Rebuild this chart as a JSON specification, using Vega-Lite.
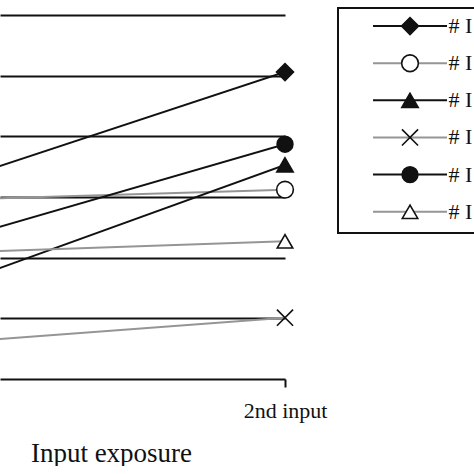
{
  "$schema": "https://vega.github.io/schema/vega-lite/v6.json",
  "padding": {"left": 0, "top": 7, "right": 0, "bottom": 0},
  "background": "white",
  "config": {"view": {"stroke": null}, "font": "Liberation Serif"},
  "spacing": 53,
  "bounds": "flush",
  "resolve": {"scale": {"x": "independent", "y": "independent"}},
  "datasets": {
    "lines": [
      {"series": "s1", "input": 1, "value": 1.96},
      {"series": "s1", "input": 2, "value": 5.06},
      {"series": "s2", "input": 1, "value": 2.84},
      {"series": "s2", "input": 2, "value": 3.12},
      {"series": "s3", "input": 1, "value": 0.13},
      {"series": "s3", "input": 2, "value": 3.53},
      {"series": "s4", "input": 1, "value": 0.31},
      {"series": "s4", "input": 2, "value": 1.01},
      {"series": "s5", "input": 1, "value": 1.15},
      {"series": "s5", "input": 2, "value": 3.87},
      {"series": "s6", "input": 1, "value": 1.95},
      {"series": "s6", "input": 2, "value": 2.27}
    ],
    "keys": [
      {"series": "s1", "label": "# I"},
      {"series": "s2", "label": "# I"},
      {"series": "s3", "label": "# I"},
      {"series": "s4", "label": "# I"},
      {"series": "s5", "label": "# I"},
      {"series": "s6", "label": "# I"}
    ]
  },
  "hconcat": [
    {
      "width": 285,
      "height": 371,
      "data": {"name": "lines"},
      "encoding": {
        "x": {
          "field": "input",
          "type": "quantitative",
          "scale": {"domain": [1.5, 2], "nice": false, "zero": false},
          "axis": {
            "values": [2],
            "labelExpr": "datum.value == 2 ? '2nd input' : '1st input'",
            "title": "Input exposure",
            "grid": false,
            "domainColor": "#111",
            "domainWidth": 2,
            "tickColor": "#111",
            "tickWidth": 2,
            "tickSize": 8,
            "labelFont": "Liberation Serif",
            "labelFontSize": 22,
            "labelColor": "#111",
            "labelPadding": 13,
            "labelFlush": false,
            "titleFont": "Liberation Serif",
            "titleFontSize": 27,
            "titleFontWeight": "normal",
            "titleColor": "#111",
            "titleAlign": "center",
            "titleBaseline": "alphabetic",
            "titleX": 111,
            "titleY": 82
          }
        },
        "y": {
          "field": "value",
          "type": "quantitative",
          "scale": {"domain": [0, 6.115], "nice": false},
          "axis": {
            "values": [1, 2, 3, 4, 5, 6],
            "grid": true,
            "gridColor": "#111",
            "gridWidth": 2,
            "domain": false,
            "ticks": false,
            "labels": false,
            "title": null
          }
        }
      },
      "layer": [
        {
          "mark": {"type": "line", "clip": true, "strokeWidth": 2},
          "encoding": {
            "color": {
              "field": "series",
              "type": "nominal",
              "scale": {"domain": ["s1", "s2", "s3", "s4", "s5", "s6"], "range": ["#111", "#959595", "#111", "#959595", "#111", "#959595"]},
              "legend": null
            }
          }
        },
        {
          "transform": [{"filter": "datum.input == 2"}],
          "mark": {"type": "point", "stroke": "#111", "strokeWidth": 1.6, "opacity": 1},
          "encoding": {
            "shape": {
              "field": "series",
              "type": "nominal",
              "scale": {"domain": ["s1", "s2", "s3", "s4", "s5", "s6"], "range": ["diamond", "circle", "triangle-up", "M-1,-1L1,1M-1,1L1,-1", "circle", "triangle-up"]},
              "legend": null
            },
            "fill": {
              "field": "series",
              "type": "nominal",
              "scale": {"domain": ["s1", "s2", "s3", "s4", "s5", "s6"], "range": ["#111", "white", "#111", "white", "#111", "white"]},
              "legend": null
            },
            "size": {
              "field": "series",
              "type": "nominal",
              "scale": {"domain": ["s1", "s2", "s3", "s4", "s5", "s6"], "range": [289, 240, 256, 225, 324, 300]},
              "legend": null
            }
          }
        }
      ]
    },
    {
      "width": 180,
      "height": 225,
      "view": {"stroke": "#111", "strokeWidth": 2},
      "data": {"name": "keys"},
      "encoding": {
        "y": {
          "field": "series",
          "type": "nominal",
          "scale": {"type": "point", "padding": 0.53, "align": 0.46, "domain": ["s1", "s2", "s3", "s4", "s5", "s6"]},
          "axis": null
        }
      },
      "layer": [
        {
          "mark": {"type": "rule", "strokeWidth": 2},
          "encoding": {
            "x": {"datum": 0, "type": "quantitative", "scale": {"domain": [-0.473, 1.959], "nice": false, "zero": false}, "axis": null},
            "x2": {"datum": 1},
            "color": {
              "field": "series",
              "type": "nominal",
              "scale": {"domain": ["s1", "s2", "s3", "s4", "s5", "s6"], "range": ["#111", "#959595", "#111", "#959595", "#111", "#959595"]},
              "legend": null
            }
          }
        },
        {
          "mark": {"type": "point", "stroke": "#111", "strokeWidth": 1.6, "opacity": 1},
          "encoding": {
            "x": {"datum": 0.5, "type": "quantitative", "scale": {"domain": [-0.473, 1.959], "nice": false, "zero": false}, "axis": null},
            "shape": {
              "field": "series",
              "type": "nominal",
              "scale": {"domain": ["s1", "s2", "s3", "s4", "s5", "s6"], "range": ["diamond", "circle", "triangle-up", "M-1,-1L1,1M-1,1L1,-1", "circle", "triangle-up"]},
              "legend": null
            },
            "fill": {
              "field": "series",
              "type": "nominal",
              "scale": {"domain": ["s1", "s2", "s3", "s4", "s5", "s6"], "range": ["#111", "white", "#111", "white", "#111", "white"]},
              "legend": null
            },
            "size": {
              "field": "series",
              "type": "nominal",
              "scale": {"domain": ["s1", "s2", "s3", "s4", "s5", "s6"], "range": [289, 240, 256, 225, 324, 300]},
              "legend": null
            }
          }
        },
        {
          "mark": {"type": "text", "align": "left", "baseline": "middle", "font": "Liberation Serif", "fontSize": 22, "color": "#111", "dx": 0},
          "encoding": {
            "x": {"datum": 1.02, "type": "quantitative", "scale": {"domain": [-0.473, 1.959], "nice": false, "zero": false}, "axis": null},
            "text": {"field": "label"}
          }
        }
      ]
    }
  ]
}
